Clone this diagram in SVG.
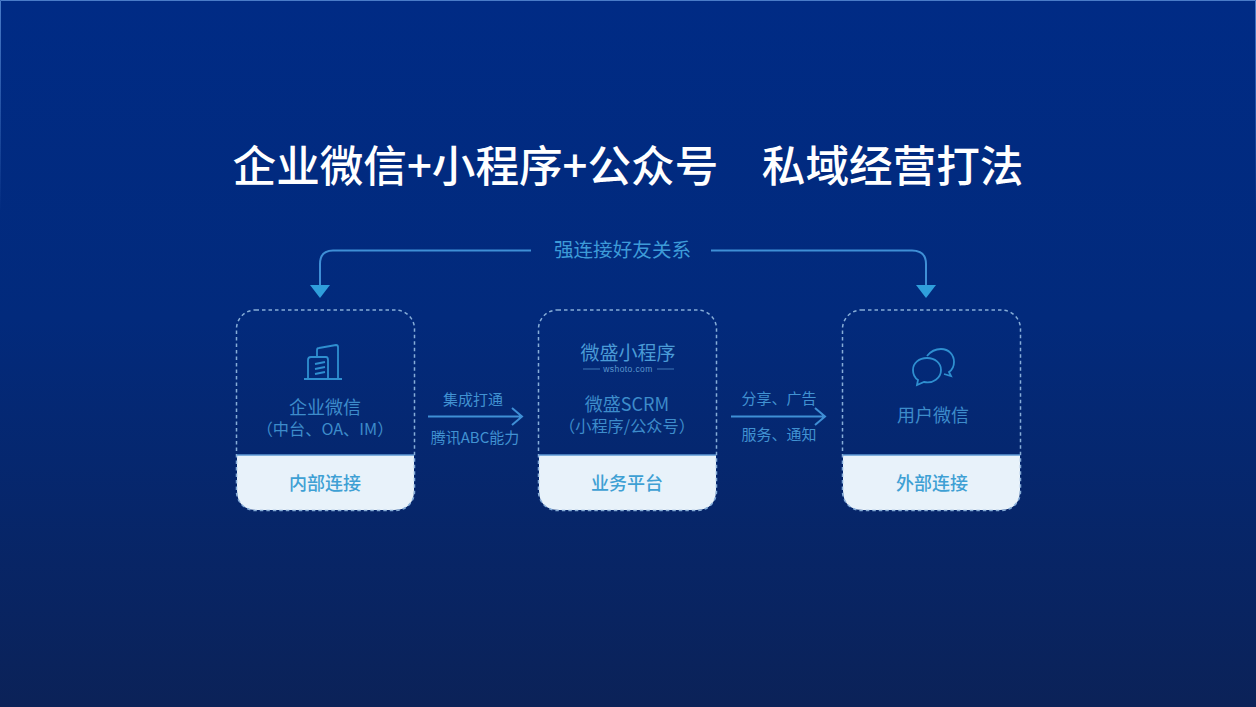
<svg xmlns="http://www.w3.org/2000/svg" width="1256" height="707" viewBox="0 0 1256 707">
<defs>
<linearGradient id="bg" x1="0" y1="0" x2="0" y2="1">
<stop offset="0" stop-color="#002b85"/>
<stop offset="0.45" stop-color="#022a7c"/>
<stop offset="1" stop-color="#0b2258"/>
</linearGradient>
<linearGradient id="edge" x1="0" y1="0" x2="0" y2="1">
<stop offset="0" stop-color="#4a7cc8"/>
<stop offset="0.3" stop-color="#4a7cc8" stop-opacity="0"/>
</linearGradient>
</defs>
<style>
text{font-family:"Noto Sans CJK SC","Noto Sans",sans-serif;text-anchor:middle}
.title{font-size:43.600px;font-weight:500;fill:#fff}
.lbl{font-size:18px;fill:#3d8ccb}
.lbl2{font-size:16.200px}
.sm{font-size:15px;fill:#4192d2}
.foot{font-size:18px;font-weight:500;fill:#3ea0d4}
.box{fill:none;stroke:#86add8;stroke-width:1.500;stroke-dasharray:3.500 3}
.band{fill:#e8f2fa}
.bandtop{stroke:#5f9ad4;stroke-width:1.500}
.line{fill:none;stroke:#3f8fd6;stroke-width:2}
.ico{fill:none;stroke:#2f8fd0;stroke-width:1.800}
.head{fill:#2f9fdc}
</style>
<rect width="1256" height="707" fill="url(#bg)"/>
<path d="M.5 707V.5H1255.500V707" fill="none" stroke="url(#edge)" stroke-width="1"/>
<g id="connectors">
<path class="line" d="M531 250.500H333Q320 250.500 320 264V286"/>
<path class="head" d="M310 285H330L320 298Z"/>
<path class="line" d="M711 250.500H912Q926 250.500 926 264V286"/>
<path class="head" d="M916 285H936L926 298Z"/>
<path class="line" d="M428 416.500H522M512 408L522 416.500L512 425"/>
<path class="line" d="M731 416.500H825M815 408L825 416.500L815 425"/>
</g>
<text id="title" class="title" x="628" y="182" xml:space="preserve">企业微信+小程序+公众号　私域经营打法</text>
<text id="top-label" x="622.500" y="257" style="font-size:19.600px;fill:#3d9bd8">强连接好友关系</text>
<text id="edge-1a" class="sm" x="473" y="405">集成打通</text>
<text id="edge-1b" class="sm" x="475" y="443">腾讯ABC能力</text>
<text id="edge-2a" class="sm" x="779" y="404">分享、广告</text>
<text id="edge-2b" class="sm" x="779" y="440">服务、通知</text>
<g id="node-internal">
<path class="band" d="M237 455H414V490Q414 510 394 510H257Q237 510 237 490Z"/>
<rect class="box" x="236.500" y="310" width="178" height="200.500" rx="19"/>
<path class="bandtop" d="M237 455H414"/>
<g class="ico">
<path d="M304 379H342M308 379V360Q308 357 311 357H326Q328 357 328 360V379M317 356V350Q317 348 319 348L336 345Q338 345 338 347V379M315 364L325 362M315 369L325 367M315 374L325 372"/>
</g>
<text class="lbl" x="325"><tspan x="325" y="414">企业微信</tspan><tspan class="lbl2" x="325" y="435">（中台、OA、IM）</tspan></text>
<text class="foot" x="325" y="490">内部连接</text>
</g>
<g id="node-platform">
<path class="band" d="M539 455H716V490Q716 510 696 510H559Q539 510 539 490Z"/>
<rect class="box" x="538.500" y="310" width="178" height="200.500" rx="19"/>
<path class="bandtop" d="M539 455H716"/>
<text x="628" y="360" style="font-size:19px;fill:#4a9ad6">微盛小程序</text>
<path d="M583 369H600M657 369H674" stroke="#3f78b8" stroke-width="1" fill="none"/>
<text x="628" y="371.500" style="font-size:8.500px;fill:#5b97cf;font-family:'Liberation Sans',sans-serif;letter-spacing:.4px">wshoto.com</text>
<text class="lbl" x="627"><tspan x="627" y="411">微盛SCRM</tspan><tspan class="lbl2" x="627" y="432">（小程序/公众号）</tspan></text>
<text class="foot" x="627" y="490">业务平台</text>
</g>
<g id="node-user">
<path class="band" d="M843 455H1020V490Q1020 510 1000 510H863Q843 510 843 490Z"/>
<rect class="box" x="842.500" y="310" width="178" height="200.500" rx="19"/>
<path class="bandtop" d="M843 455H1020"/>
<g class="ico">
<path d="M927 356C931 351 936 349 941 349C949 349 954 355 954 362C954 367 952 370 949 372L951 376L944 374"/>
<path d="M927 358C919 358 913 363 913 370C913 375 915 378 918 380L917 385L924 382C933 384 941 378 941 370C941 363 935 358 927 358Z"/>
</g>
<text class="lbl" x="933" y="422">用户微信</text>
<text class="foot" x="932" y="490">外部连接</text>
</g>
</svg>
